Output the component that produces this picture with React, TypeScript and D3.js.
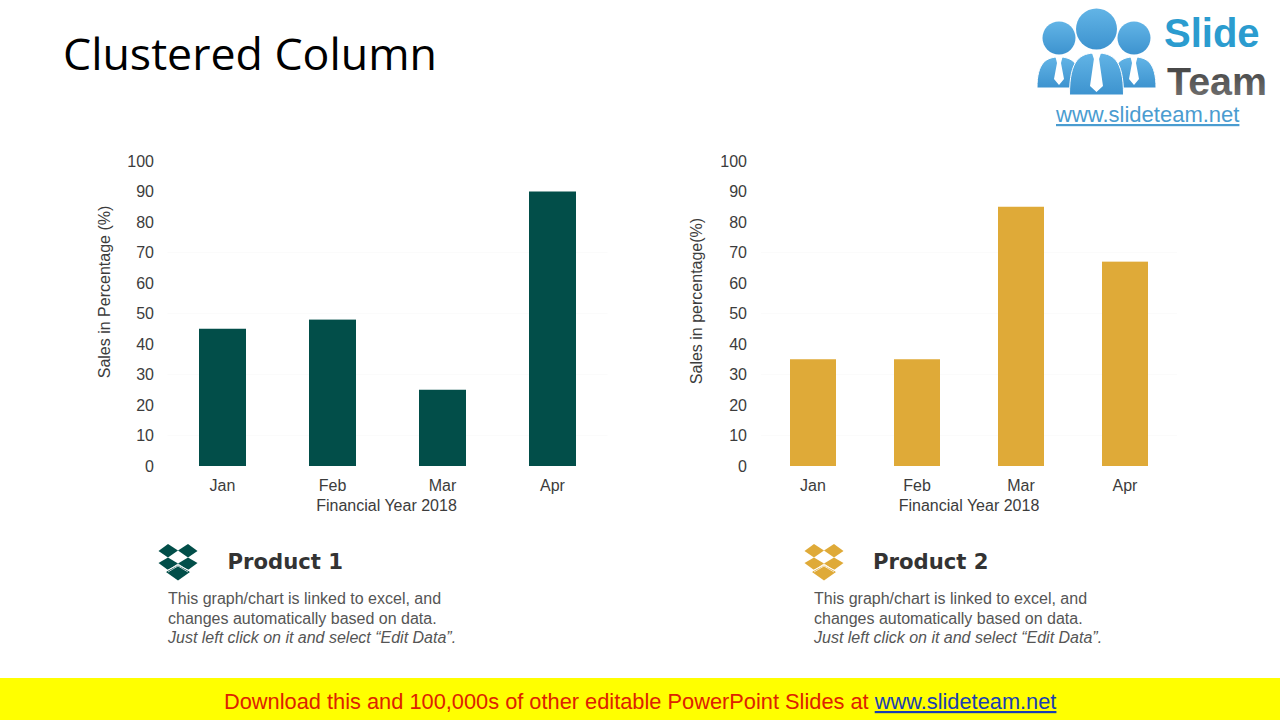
import React from "react";
import * as d3 from "d3";

const months = ["Jan", "Feb", "Mar", "Apr"];
const product1Values = [45, 48, 25, 90];
const product2Values = [35, 35, 85, 67];
const yTicks = [0, 10, 20, 30, 40, 50, 60, 70, 80, 90, 100];
const gridValues = [10, 30, 50, 70];
const FONT = "'Liberation Sans', Arial, sans-serif";

function Chart({ values, x0, x1, barWidth, color, yLabel, yLabelX, yLabelY, tickX, xTitleX }: any) {
  const y = d3.scaleLinear().domain([0, 100]).range([466, 161]);
  const x = d3.scaleBand().domain(months).range([x0, x1]);
  return (
    <g fontFamily={FONT} fill="#3c3c3c">
      {gridValues.map((v) => (
        <line key={v} x1={x0} x2={x1} y1={y(v)} y2={y(v)} stroke="#fbfbfb" strokeWidth={1} />
      ))}
      {values.map((v: number, i: number) => {
        const cx = x(months[i])! + x.bandwidth() / 2;
        return <rect key={months[i]} x={cx - barWidth / 2} width={barWidth} y={y(v)} height={y(0) - y(v)} fill={color} />;
      })}
      {yTicks.map((t) => (
        <text key={t} x={tickX} y={y(t) + 5.5} textAnchor="end" fontSize={16}>{t}</text>
      ))}
      {months.map((m) => (
        <text key={m} x={x(m)! + x.bandwidth() / 2} y={490.5} textAnchor="middle" fontSize={16}>{m}</text>
      ))}
      <text x={xTitleX} y={511} textAnchor="middle" fontSize={16}>Financial Year 2018</text>
      <text transform={`translate(${yLabelX},${yLabelY}) rotate(-90)`} textAnchor="middle" fontSize={16}>{yLabel}</text>
    </g>
  );
}

function BoxIcon({ x, y, color }: any) {
  return (
    <g transform={`translate(${x},${y})`} fill={color}>
      <polygon points="0.5,7 10,0 20,6.5 10,13.5" />
      <polygon points="20,6.5 30,0 39.5,7 30,13.5" />
      <polygon points="0.5,19 10,13.5 20,19.5 10,26" />
      <polygon points="20,19.5 30,13.5 39.5,19 30,26" />
      <polygon points="8,28 20,20.5 32,28 20,36.5" />
      <polyline points="8,27 20,21 32,27" fill="none" stroke="#fff" strokeWidth={1} />
      <path d="M20,22 L10,28 M20,22 L30,28" fill="none" stroke="#fff" strokeWidth={0.7} />
    </g>
  );
}

function Note({ x, iconX, titleX, title, color }: any) {
  return (
    <g fontFamily={FONT}>
      <BoxIcon x={iconX} y={544} color={color} />
      <text x={titleX} y={569} fontFamily="'DejaVu Sans', sans-serif" fontWeight="bold" fontSize={21.2} fill="#333">{title}</text>
      <g fontSize={16} fill="#555">
        <text x={x} y={604}>This graph/chart is linked to excel, and</text>
        <text x={x} y={624}>changes automatically based on data.</text>
        <text x={x} y={643} fontStyle="italic">Just left click on it and select “Edit Data”.</text>
      </g>
    </g>
  );
}

function Person({ cx, headY, r, bodyTop, bodyBottom, halfW, tie }: any) {
  return (
    <g>
      <circle cx={cx} cy={headY} r={r} fill="url(#logoBlue)" />
      <path d={`M${cx - halfW},${bodyBottom} C${cx - halfW},${bodyTop + 6} ${cx - halfW * 0.6},${bodyTop} ${cx},${bodyTop} C${cx + halfW * 0.6},${bodyTop} ${cx + halfW},${bodyTop + 6} ${cx + halfW},${bodyBottom} Z`} fill="url(#logoBlue)" stroke="#fff" strokeWidth={1} />
      <path d={`M${cx - tie * 0.7},${bodyTop} L${cx + tie * 0.7},${bodyTop} L${cx + tie * 0.4},${bodyTop + 6} L${cx + tie},${bodyBottom - 9} L${cx},${bodyBottom - 3} L${cx - tie},${bodyBottom - 9} L${cx - tie * 0.4},${bodyTop + 6} Z`} fill="#fff" />
    </g>
  );
}

function Logo() {
  return (
    <g>
      <defs>
        <linearGradient id="logoBlue" x1="0" y1="0" x2="0" y2="1">
          <stop offset="0" stopColor="#62b4e6" />
          <stop offset="1" stopColor="#3d93cf" />
        </linearGradient>
        <linearGradient id="logoGrey" x1="0" y1="0" x2="0" y2="1">
          <stop offset="0" stopColor="#3a3a3a" />
          <stop offset="1" stopColor="#777" />
        </linearGradient>
      </defs>
      <Person cx={1059} headY={38} r={16.5} bodyTop={57} bodyBottom={88} halfW={22} tie={5} />
      <Person cx={1134} headY={38} r={16.5} bodyTop={57} bodyBottom={88} halfW={22} tie={5} />
      <Person cx={1096.5} headY={29} r={20.5} bodyTop={53} bodyBottom={95} halfW={27} tie={6.5} />
      <g fontFamily={FONT} fontWeight="bold" fontSize={40}>
        <text x={1164} y={47} fill="#2b9ccf">Slide</text>
        <text x={1167} y={95} fontSize={39.4} fill="url(#logoGrey)">Team</text>
      </g>
      <text x={1056} y={122} fontFamily={FONT} fontSize={22} fill="#4a9cd0" textDecoration="underline">www.slideteam.net</text>
    </g>
  );
}

export default function App() {
  return (
    <svg width={1280} height={720} style={{ position: "fixed", left: 0, top: 0, background: "#fff" }}>
      <rect width={1280} height={720} fill="#fff" />
      <text x={63} y={70} fontFamily="'Open Sans', sans-serif" fontSize={44.7} fill="#000">Clustered Column</text>
      <Logo />
      <Chart values={product1Values} x0={167.5} x1={607.5} barWidth={47} color="#024e49" yLabel="Sales in Percentage (%)" yLabelX={110} yLabelY={292} tickX={154} xTitleX={386.5} />
      <Chart values={product2Values} x0={761} x1={1177} barWidth={46} color="#dfaa38" yLabel="Sales in percentage(%)" yLabelX={702} yLabelY={301} tickX={747} xTitleX={969} />
      <Note x={168} iconX={158} titleX={227.5} title="Product 1" color="#024e49" />
      <Note x={814} iconX={804} titleX={873} title="Product 2" color="#dfaa38" />
      <rect x={0} y={678} width={1280} height={42} fill="#ffff00" />
      <text x={224} y={709} fontFamily={FONT} fontSize={21.8} fill="#dd2200">
        Download this and 100,000s of other editable PowerPoint Slides at{" "}
        <tspan fill="#1a3fb0" textDecoration="underline">www.slideteam.net</tspan>
      </text>
    </svg>
  );
}
